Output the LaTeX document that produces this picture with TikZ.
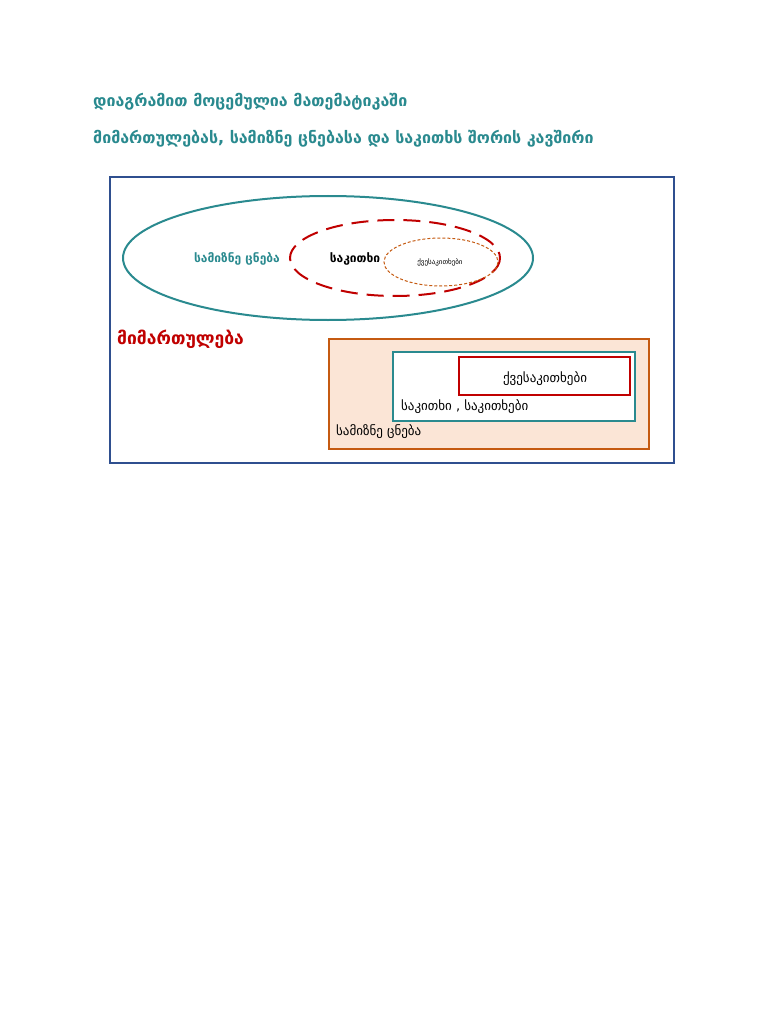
\documentclass[tikz,border=0pt]{standalone}
\usepackage{fontspec}
\setmainfont{DejaVu Sans}
\usetikzlibrary{shapes.geometric}
\definecolor{teal1}{HTML}{2A8A8F}
\definecolor{navy1}{HTML}{2F4F8F}
\definecolor{red1}{HTML}{C00000}
\definecolor{org1}{HTML}{C55A11}
\definecolor{peach}{HTML}{FBE5D6}
\begin{document}
\begin{tikzpicture}[x=1pt,y=-1pt,
  lbl/.style={inner sep=0pt,font=\fontsize{13}{15}\selectfont},
  ttl/.style={inner sep=0pt,anchor=west,text=teal1,font=\bfseries\fontsize{16}{18}\selectfont}]
\useasboundingbox (0,0) rectangle (768,1024);
\node[ttl] (t1) at (93,102) {დიაგრამით მოცემულია მათემატიკაში};
\node[ttl] (t2) at (93,139) {მიმართულებას, სამიზნე ცნებასა და საკითხს შორის კავშირი};
\draw[navy1,line width=2pt] (110,177) rectangle (674,463);
\draw[teal1,line width=2pt] (328,258) ellipse [x radius=205,y radius=62];
\draw[red1,line width=2pt,dash pattern=on 17pt off 9pt] (395,258) ellipse [x radius=105,y radius=38];
\draw[org1,line width=1pt,dash pattern=on 3pt off 2pt] (441,262) ellipse [x radius=57,y radius=24];
\node[lbl,text=teal1,font=\bfseries\fontsize{12}{14}\selectfont] (sc) at (237,259) {სამიზნე ცნება};
\node[lbl,font=\bfseries\fontsize{12}{14}\selectfont] (sk) at (355,259) {საკითხი};
\node[lbl,font=\fontsize{7}{8}\selectfont] (qv) at (440,262) {ქვესაკითხები};
\node[inner sep=0pt,anchor=west,text=red1,font=\bfseries\fontsize{17.5}{20}\selectfont] (mi) at (117,339) {მიმართულება};
\draw[org1,line width=2pt,fill=peach] (329,339) rectangle (649,449);
\draw[teal1,line width=1.3pt,fill=white] (393,352) rectangle (635,421);
\draw[red1,line width=1.3pt] (459,357) rectangle (630,395);
\node[lbl] (q2) at (545,379) {ქვესაკითხები};
\node[lbl,anchor=west] (s2) at (401,407) {საკითხი , საკითხები};
\node[lbl,anchor=west] (sc2) at (336,432) {სამიზნე ცნება};
\end{tikzpicture}
\end{document}
